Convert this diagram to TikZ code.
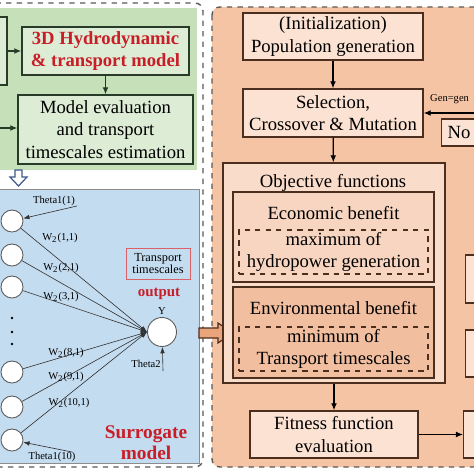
\documentclass[tikz,border=0pt]{standalone}
\usepackage{fontspec}
\setmainfont{Liberation Serif}
\usetikzlibrary{arrows.meta}
\definecolor{greenpanel}{RGB}{198,224,186}
\definecolor{greenbox}{RGB}{220,236,213}
\definecolor{greenedge}{RGB}{40,58,40}
\definecolor{bluepanel}{RGB}{196,220,240}
\definecolor{blueedge}{RGB}{60,90,140}
\definecolor{orangepanel}{RGB}{245,196,164}
\definecolor{peachbox}{RGB}{251,226,210}
\definecolor{objfill}{RGB}{250,220,202}
\definecolor{econfill}{RGB}{247,213,192}
\definecolor{envfill}{RGB}{242,190,160}
\definecolor{brownedge}{RGB}{75,46,30}
\definecolor{arrowfill}{RGB}{233,164,124}
\definecolor{redtext}{RGB}{200,30,40}

\tikzset{
  gbox/.style={draw=greenedge, fill=greenbox, line width=0.8pt, inner sep=0pt, align=center,
    font=\fontsize{10.6}{12.6}\selectfont},
  obox/.style={draw=brownedge, fill=peachbox, line width=0.8pt, inner sep=0pt, align=center,
    font=\fontsize{10.6}{12.6}\selectfont},
  dbox/.style={draw=brownedge, dashed, line width=0.6pt, inner sep=0pt, align=center,
    font=\fontsize{10.6}{12.6}\selectfont},
  neuron/.style={circle, draw=black!65, fill=white, line width=0.5pt, minimum size=4.4mm, inner sep=0pt},
  wlab/.style={font=\fontsize{6}{6.5}\selectfont, inner sep=0.5pt},
  nnarr/.style={-{Latex[length=3.6pt,width=2.6pt]}, line width=0.35pt, draw=black!80},
  garr/.style={-{Latex[length=4pt,width=3.4pt]}, line width=0.7pt, draw=greenedge},
  oarr/.style={-{Latex[length=4pt,width=3.4pt]}, line width=0.7pt, draw=black},
  panel/.style={draw=black!65, dashed, line width=0.8pt, rounded corners=1.6mm}
}

\begin{document}
\begin{tikzpicture}[x=0.2mm, y=-0.2mm]
\useasboundingbox (0,0) rectangle (474,474);
\clip (0,0) rectangle (474,474);
\fill[white] (0,0) rectangle (474,474);

%panels
\draw[panel] (-14,3) rectangle (203,467);
\fill[greenpanel] (-5,8) rectangle (197,170);
\draw[draw=black!45, fill=bluepanel, line width=0.5pt] (-5,189) rectangle (199,463);
\draw[panel, fill=orangepanel] (212,7) rectangle (520,467);

%hydrodynamic model
\node[gbox, minimum width=9.2mm, minimum height=13.6mm] at (-16,51) (setup) {};
\node[gbox, font=\fontsize{10.6}{12.6}\selectfont\bfseries, text=redtext,
  minimum width=33.4mm, minimum height=9.6mm] at (105.5,51) (hydro) {3D Hydrodynamic\\\& transport model};
\node[gbox, minimum width=35mm, minimum height=13.8mm] at (105.5,129.5) (evalm)
  {Model evaluation\\and transport\\timescales estimation};
\coordinate (gin) at (0,128);
\draw[garr] (setup) -- (hydro);
\draw[garr] (hydro) -- (evalm);
\draw[garr] (gin) -- (gin -| evalm.west);

%hollow arrows
\draw[blueedge, fill=white, line width=0.7pt] (15,170) -- (22,170) -- (22,177) -- (27,177)
  -- (18.5,186) -- (10,177) -- (15,177) -- cycle;
\draw[brownedge, fill=arrowfill, line width=0.7pt] (199,328) -- (218,328) -- (218,323)
  -- (233,333) -- (218,343) -- (218,338) -- (199,338) -- cycle;

%surrogate network
\foreach \n/\y in {1/221, 2/255, 3/287, 8/372, 9/407, 10/440}
  \node[neuron] at (12,\y) (in\n) {};
\foreach \y in {318,332,344}
  \fill (12,\y) circle (1.4);
\node[neuron, minimum size=5.8mm] at (162,332) (out) {};
\foreach \n in {1,2,3,8,9,10}
  \draw[nnarr] (in\n) -- (out.west);

\node[wlab] at (60,238) (w1) {W\textsubscript{2}(1,1)};
\node[wlab] at (61,268) (w2) {W\textsubscript{2}(2,1)};
\node[wlab] at (61,297) (w3) {W\textsubscript{2}(3,1)};
\node[wlab] at (66,353) (w8) {W\textsubscript{2}(8,1)};
\node[wlab] at (66,377) (w9) {W\textsubscript{2}(9,1)};
\node[wlab] at (69,403) (w10) {W\textsubscript{2}(10,1)};

\coordinate (th1) at (77,206);
\coordinate (th10) at (72,452);
\coordinate (th2) at (163,371);
\draw[nnarr] (th1) -- (in1);
\draw[nnarr] (th10) -- (in10);
\draw[nnarr] (th2) -- (out);
\node[wlab] at (54,201) (th1lab) {Theta1(1)};
\node[wlab] at (52,457) (th10lab) {Theta1(10)};
\node[wlab] at (146,364) (th2lab) {Theta2};
\node[wlab] at (162,311) (ylab) {Y};

\node[draw=redtext!70, line width=0.5pt, fill=bluepanel, align=center, inner sep=0pt,
  minimum width=12.8mm, minimum height=6.2mm, font=\fontsize{7}{7.2}\selectfont]
  at (158,263.5) (ttbox) {Transport\\timescales};
\node[text=redtext, font=\fontsize{8.5}{9}\selectfont\bfseries] at (159,294) (outlab) {output};
\node[text=redtext, align=center, font=\fontsize{11}{12}\selectfont\bfseries] at (146,442.5)
  (surr) {Surrogate\\model};

%optimization
\node[obox, minimum width=36mm, minimum height=9.4mm] at (333,36.5) (init)
  {(Initialization)\\Population generation};
\node[obox, minimum width=36mm, minimum height=9.6mm] at (333,113) (select)
  {Selection,\\Crossover \& Mutation};
\node[obox, fill=objfill, minimum width=44.4mm, minimum height=44mm] at (334,273) (objf) {};
\node[font=\fontsize{10.6}{12.6}\selectfont] at (333,183) (objt) {Objective functions};
\node[obox, fill=econfill, minimum width=40.2mm, minimum height=18mm] at (333.5,237) (econ) {};
\node[font=\fontsize{10.6}{12.6}\selectfont] at (333.5,213) (econt) {Economic benefit};
\node[dbox, minimum width=37.8mm, minimum height=8.8mm] at (333.5,252) (maxh)
  {maximum of\\hydropower generation};
\node[obox, fill=envfill, minimum width=40.2mm, minimum height=18.2mm] at (333.5,332.5) (envb) {};
\node[font=\fontsize{10.6}{12.6}\selectfont] at (333.5,308) (envt) {Environmental benefit};
\node[dbox, minimum width=37.8mm, minimum height=8.8mm] at (333.5,349) (mint)
  {minimum of\\Transport timescales};
\node[obox, minimum width=33.6mm, minimum height=9.4mm] at (334,434.5) (fit)
  {Fitness function\\evaluation};

%right column (cut)
\node[obox, anchor=west, minimum width=14mm, minimum height=9.4mm] at (463,434.5) (stop) {};
\node[obox, anchor=west, minimum width=14mm, minimum height=9.6mm] at (465,279) (rb1) {};
\node[obox, anchor=west, minimum width=14mm, minimum height=9.4mm] at (465,353.5) (rb2) {};
\node[obox, anchor=west, align=left, text width=10mm, inner xsep=1.2mm, minimum height=5.4mm]
  at (441,132.5) (nob) {No};
\coordinate (loop) at (480,113);
\node[wlab, anchor=west] at (429,99) (genlab) {Gen=gen};

\draw[oarr] (init) -- (select);
\draw[oarr] (select) -- (objf);
\draw[oarr] (objf) -- (fit);
\draw[oarr] (fit) -- (stop);
\draw[oarr] (loop) -- (select.east |- loop);

\end{tikzpicture}
\end{document}
